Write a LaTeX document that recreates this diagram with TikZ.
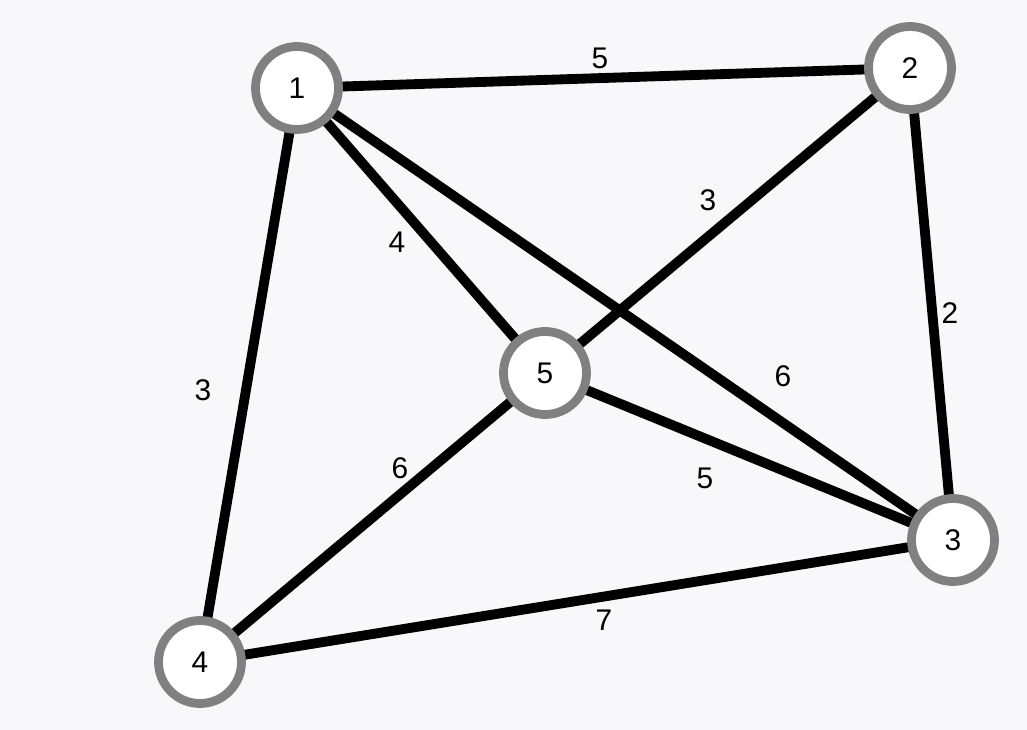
\documentclass[tikz,border=0pt]{standalone}
\usepackage{fontspec}
\setmainfont{Liberation Sans}
\definecolor{bgcol}{HTML}{F8F8FA}
\definecolor{ringcol}{HTML}{808080}
\tikzset{
  vertex/.style={circle,draw=ringcol,fill=white,line width=5pt,minimum size=1.66cm,inner sep=0pt,font=\fontsize{17}{20}\selectfont},
  link/.style={line width=5.6pt},
  weight/.style={font=\fontsize{17}{20}\selectfont,inner sep=1pt}
}
\begin{document}
\begin{tikzpicture}
	  \fill[bgcol](0, 0) rectangle (20.54, 14.6);
	  \useasboundingbox (0, 0) rectangle (20.54, 14.6);
	  % vertices
	  \coordinate (p1) at (5.94, 12.84);
	  \coordinate (p2) at (18.2, 13.24);
	  \coordinate (p3) at (19.06, 3.8);
	  \coordinate (p4) at (4.0, 1.36);
	  \coordinate (p5) at (10.9, 7.14);
	  % edges
	  \draw[link](p1) -- (p2);
	  \draw[link](p1) -- (p4);
	  \draw[link](p1) -- (p5);
	  \draw[link](p1) -- (p3);
	  \draw[link](p2) -- (p5);
	  \draw[link](p2) -- (p3);
	  \draw[link](p5) -- (p3);
	  \draw[link](p5) -- (p4);
	  \draw[link](p4) -- (p3);
	  % nodes on top
	  \node[vertex] (v1) at (p1) {1};
	  \node[vertex] (v2) at (p2) {2};
	  \node[vertex] (v3) at (p3) {3};
	  \node[vertex] (v4) at (p4) {4};
	  \node[vertex] (v5) at (p5) {5};
	  % weights
	  \node[weight] (w12) at (12.0, 13.44) {5};
	  \node[weight] (w25) at (14.16, 10.6) {3};
	  \node[weight] (w23) at (19.0, 8.34) {2};
	  \node[weight] (w15) at (7.94, 9.76) {4};
	  \node[weight] (w13) at (15.66, 7.08) {6};
	  \node[weight] (w14) at (4.06, 6.8) {3};
	  \node[weight] (w45) at (8.0, 5.24) {6};
	  \node[weight] (w53) at (14.1, 5.04) {5};
	  \node[weight] (w43) at (12.08, 2.2) {7};
\end{tikzpicture}
\end{document}
